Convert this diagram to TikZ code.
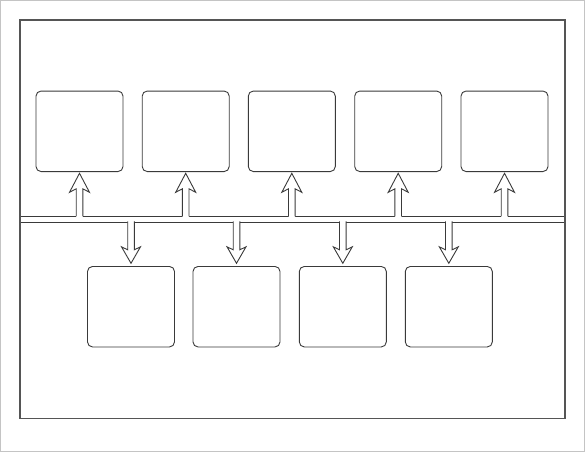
\documentclass[tikz,border=0pt]{standalone}
\usetikzlibrary{calc}
\definecolor{boxgray}{HTML}{3A3A3A}
\definecolor{framegray}{HTML}{555555}
\definecolor{pagegray}{HTML}{C4C4C4}
\begin{document}
\begin{tikzpicture}[x=1pt,y=-1pt,
  box/.style={draw=boxgray, line width=0.9pt, rounded corners=5pt, minimum width=87pt, minimum height=80.5pt, inner sep=0pt, fill=white},
  arrowline/.style={draw=boxgray, line width=0.9pt, line join=miter}]
\useasboundingbox (0,0) rectangle (585,452);
\draw[pagegray, line width=1pt] (0.5,0.5) rectangle (584.5,451.5);
\draw[framegray, line width=1.4pt] (20,20) rectangle (565,418.5);
% top row
\node[box] (t1) at (79.5,131.3) {};
\node[box] (t2) at (185.7,131.3) {};
\node[box] (t3) at (291.8,131.3) {};
\node[box] (t4) at (398.2,131.3) {};
\node[box] (t5) at (504.5,131.3) {};
% bottom row
\node[box] (b1) at (131,306.7) {};
\node[box] (b2) at (236.5,306.7) {};
\node[box] (b3) at (342.8,306.7) {};
\node[box] (b4) at (448.8,306.7) {};
% timeline band
\coordinate (bandL) at (20,216);
\coordinate (bandR) at (565,222);
\draw[arrowline, fill=white] (bandL) rectangle (bandR);
\draw[framegray, line width=1.4pt] (20,212) -- (20,226) (565,212) -- (565,226);
% up arrows
\foreach \n in {t1,t2,t3,t4,t5}{
  \path (\n.south) ++(0,1.3) coordinate (tip);
  \fill[white] (tip) ++(-3.3,46) -- ++(0,-30.5) -- ++(-6.7,3.5) -- (tip) -- ++(10,19) -- ++(-6.7,-3.5) -- ++(0,30.5) -- cycle;
  \draw[arrowline] (tip) ++(-3.3,43) -- ++(0,-27.5) -- ++(-6.7,3.5) -- (tip) -- ++(10,19) -- ++(-6.7,-3.5) -- ++(0,27.5);
}
% down arrows
\foreach \n in {b1,b2,b3,b4}{
  \path (\n.north) ++(0,-2.7) coordinate (tip);
  \fill[white] (tip) ++(-3.3,-45) -- ++(0,31.5) -- ++(-6.2,-3) -- (tip) -- ++(9.5,-16.5) -- ++(-6.2,3) -- ++(0,-31.5) -- cycle;
  \draw[arrowline] (tip) ++(-3.3,-42) -- ++(0,28.5) -- ++(-6.2,-3) -- (tip) -- ++(9.5,-16.5) -- ++(-6.2,3) -- ++(0,-28.5);
}
\end{tikzpicture}
\end{document}
